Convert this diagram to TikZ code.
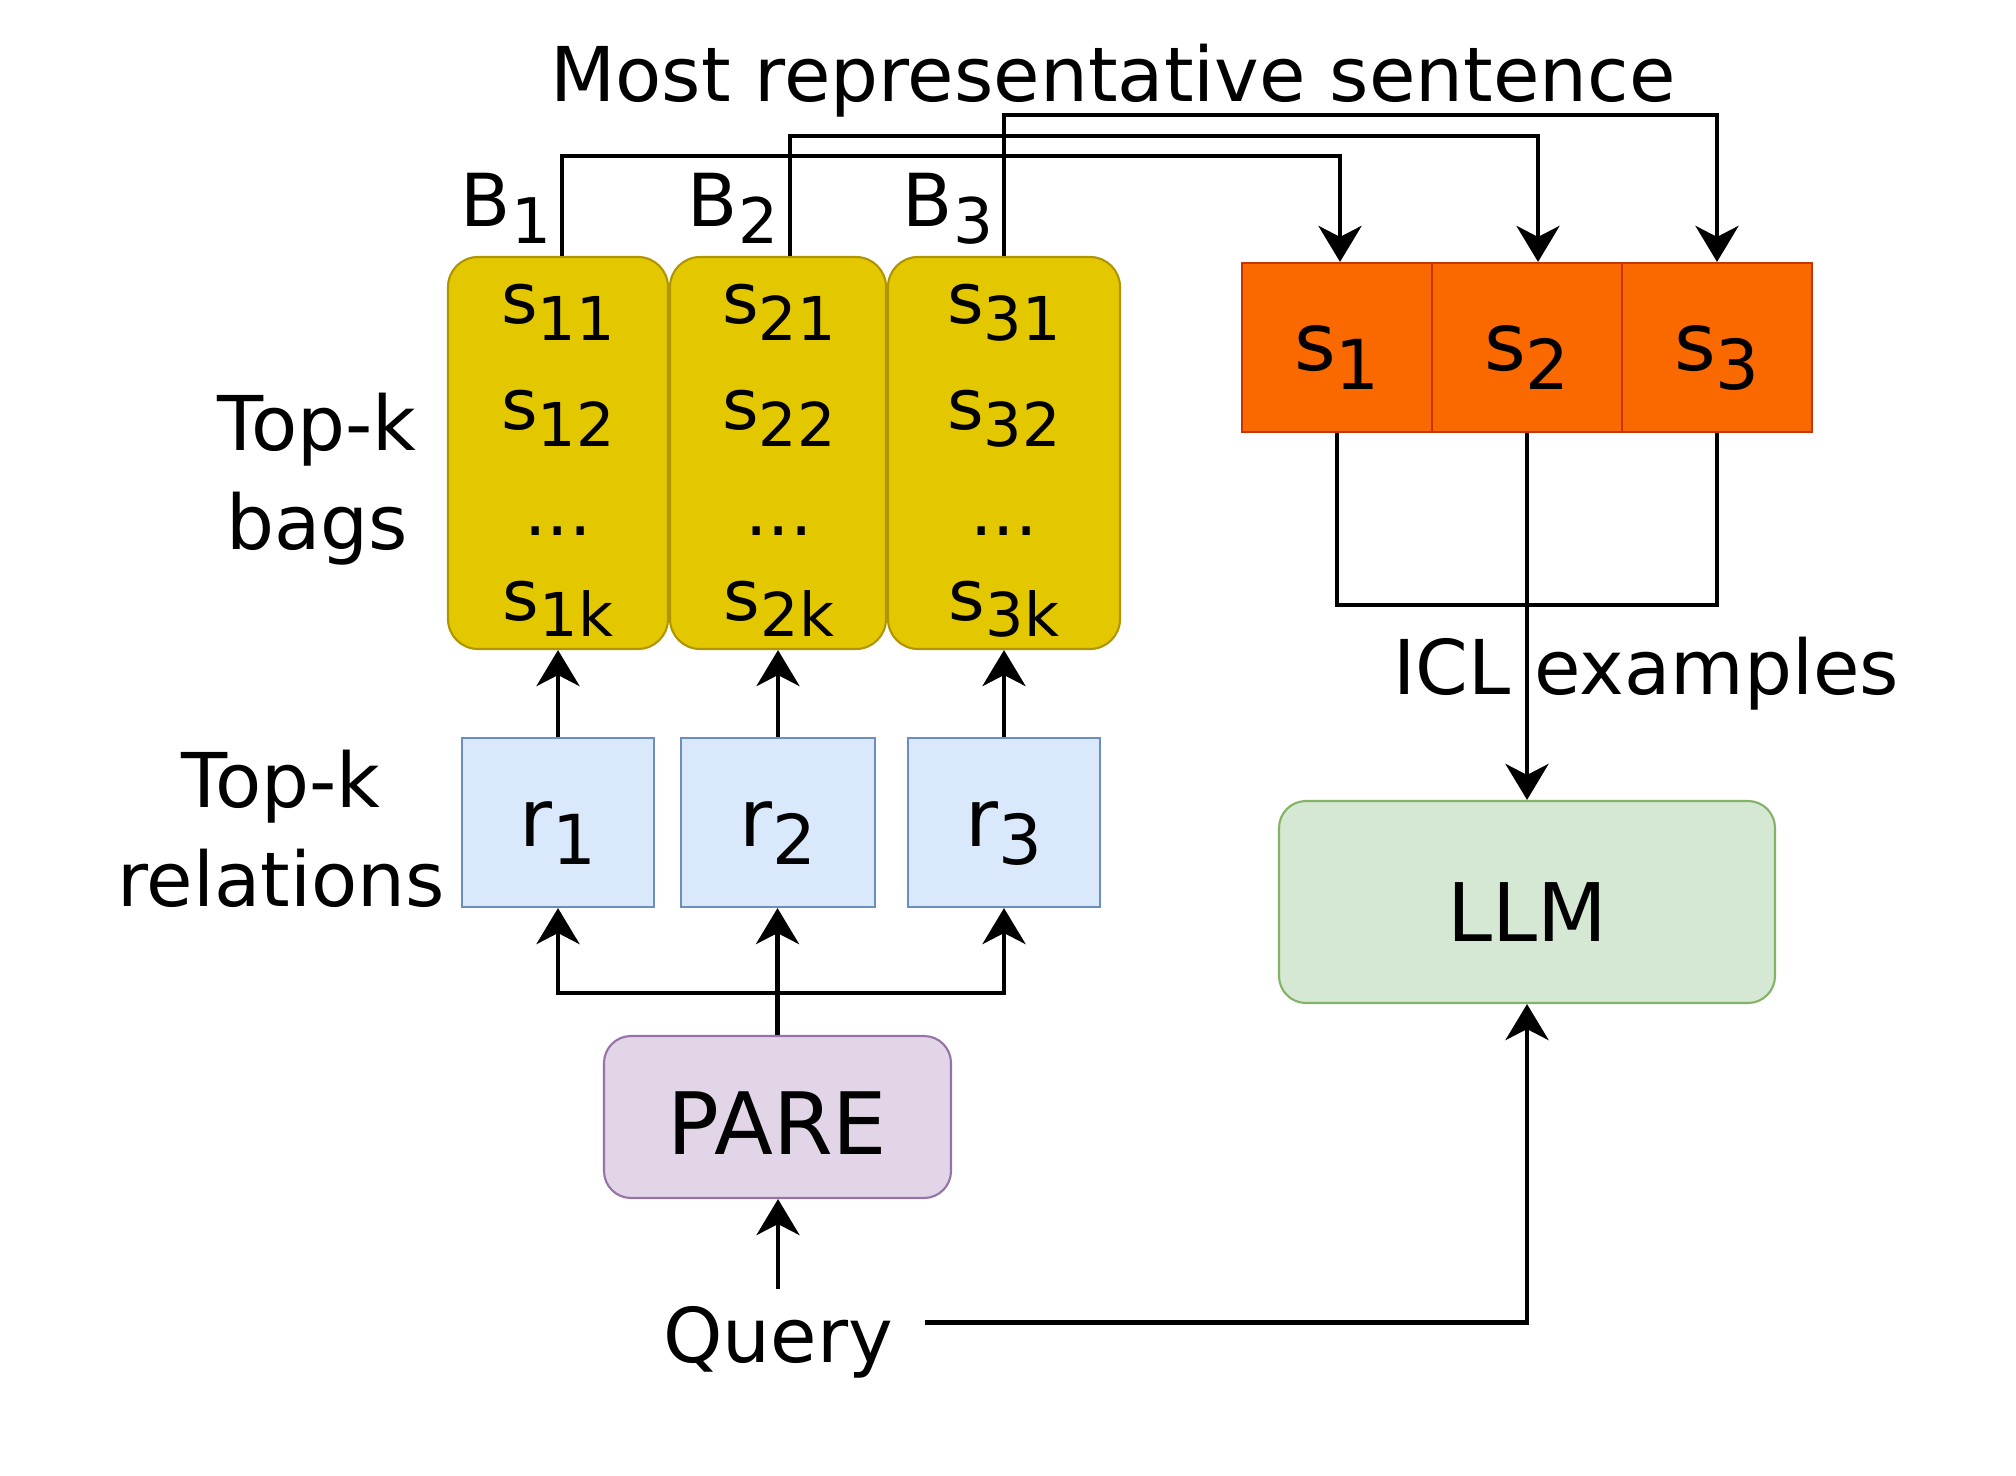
\documentclass[tikz,border=0pt]{standalone}
\usepackage{fontspec}
\setmainfont{DejaVu Sans}
\usepackage{graphicx}
\usetikzlibrary{arrows.meta}

\definecolor{bagfill}{HTML}{E3C800}
\definecolor{bagline}{HTML}{B09500}
\definecolor{sentfill}{HTML}{FA6800}
\definecolor{sentline}{HTML}{C73500}
\definecolor{relfill}{HTML}{DAE8FC}
\definecolor{relline}{HTML}{6C8EBF}
\definecolor{llmfill}{HTML}{D5E8D4}
\definecolor{llmline}{HTML}{82B366}
\definecolor{parefill}{HTML}{E1D5E7}
\definecolor{pareline}{HTML}{9673A6}

\newcommand{\withsub}[2]{#1\raisebox{-0.23em}{\scalebox{0.86}{#2}}}

\tikzset{
  lbl/.style={anchor=base, inner sep=0, font=\fontsize{21.5}{28.2}\selectfont},
  blab/.style={anchor=base, inner sep=0, font=\fontsize{20.8}{25}\selectfont},
  bagbox/.style={draw=bagline, fill=bagfill, line width=0.6pt, rounded corners=0.3cm, minimum height=3.92cm, inner sep=0},
  bagrow/.style={anchor=base, inner sep=0, font=\fontsize{20}{24}\selectfont},
  relbox/.style={draw=relline, fill=relfill, line width=0.6pt, minimum width=1.92cm, minimum height=1.69cm, inner sep=0,
    text height=0.8cm, text depth=0.33cm, font=\fontsize{22.8}{27}\selectfont},
  sentbox/.style={relbox, draw=sentline, fill=sentfill, minimum width=1.9cm},
  modelbox/.style={line width=0.6pt, rounded corners=0.27cm, inner sep=0, text depth=0cm, font=\fontsize{23}{28}\selectfont}
}

\begin{document}
\begin{tikzpicture}[>={Stealth[length=3.6mm,width=4.3mm,inset=1.1mm]}, line width=1.35pt]
  \useasboundingbox (0,0) rectangle (20.16,-14.76);

  \node[lbl] (title) at (11.13,-1.02) {Most representative sentence};
  \node[lbl,align=center,anchor=center] (bagstxt) at (3.17,-4.79) {Top-k\\bags};
  \node[lbl,align=center,anchor=center] (relstxt) at (2.81,-8.29) {Top-k\\relations};
  \node[lbl] (icl) at (16.46,-6.94) {ICL examples};
  \node[lbl,inner sep=0.15cm] (Q) at (7.78,-13.62) {Query};

  \node[bagbox,minimum width=2.20cm] (bag1) at (5.58,-4.53) {};
  \node[bagbox,minimum width=2.16cm] (bag2) at (7.78,-4.53) {};
  \node[bagbox,minimum width=2.32cm] (bag3) at (10.04,-4.53) {};

  \node[blab] (B1) at (5.06,-2.27) {\withsub{B}{1}};
  \node[blab] (B2) at (7.33,-2.27) {\withsub{B}{2}};
  \node[blab] (B3) at (9.48,-2.27) {\withsub{B}{3}};

  \node[bagrow] (s11) at (5.58,-3.24) {\withsub{s}{11}};
  \node[bagrow] (s12) at (5.58,-4.30) {\withsub{s}{12}};
  \node[bagrow] (d1) at (5.58,-5.35) {...};
  \node[bagrow] (s1k) at (5.58,-6.20) {\withsub{s}{1k}};
  \node[bagrow] (s21) at (7.79,-3.24) {\withsub{s}{21}};
  \node[bagrow] (s22) at (7.79,-4.30) {\withsub{s}{22}};
  \node[bagrow] (d2) at (7.79,-5.35) {...};
  \node[bagrow] (s2k) at (7.79,-6.20) {\withsub{s}{2k}};
  \node[bagrow] (s31) at (10.04,-3.24) {\withsub{s}{31}};
  \node[bagrow] (s32) at (10.04,-4.30) {\withsub{s}{32}};
  \node[bagrow] (d3) at (10.04,-5.35) {...};
  \node[bagrow] (s3k) at (10.04,-6.20) {\withsub{s}{3k}};

  \node[relbox] (r1) at (5.58,-8.225) {\withsub{r}{1}};
  \node[relbox,minimum width=1.94cm] (r2) at (7.78,-8.225) {\withsub{r}{2}};
  \node[relbox] (r3) at (10.04,-8.225) {\withsub{r}{3}};

  \node[sentbox] (S1) at (13.37,-3.475) {\withsub{s}{1}};
  \node[sentbox] (S2) at (15.27,-3.475) {\withsub{s}{2}};
  \node[sentbox] (S3) at (17.17,-3.475) {\withsub{s}{3}};

  \node[modelbox,draw=pareline,fill=parefill,minimum width=3.47cm,minimum height=1.62cm,text height=0.75cm,font=\fontsize{24.5}{29}\selectfont] (PARE) at (7.775,-11.17) {PARE};
  \node[modelbox,draw=llmline,fill=llmfill,minimum width=4.96cm,minimum height=2.02cm,text height=0.78cm] (LLM) at (15.27,-9.02) {LLM};

  \draw[->] (r1.north) to (bag1.south); \draw[->] (r2.north) to (bag2.south); \draw[->] (r3.north) to (bag3.south);
  \draw[->] (PARE.north) to (PARE.north |- r2.south);
  \draw[->] (PARE.north) -- ++(0,0.42) -| (r1.south); \draw[->] (PARE.north) -- ++(0,0.42) -| (r3.south);
  \draw[->] (Q.north) to (Q.north |- PARE.south);
  \draw[->] ([xshift=0.15cm,yshift=0.19cm]Q.east) -| (LLM.south);

  \draw[->] ([xshift=0.04cm]bag1.north) -- ++(0,1) -| ([xshift=0.03cm]S1.north);
  \draw[->] ([xshift=0.12cm]bag2.north) -- ++(0,1.2) -| ([xshift=0.11cm]S2.north);
  \draw[->] (bag3.north) -- ++(0,1.41) -| (S3.north);

  \draw (S1.south) -- ++(0,-1.72) -| (S3.south);
  \draw[->] (S2.south) to (LLM.north);
\end{tikzpicture}
\end{document}
